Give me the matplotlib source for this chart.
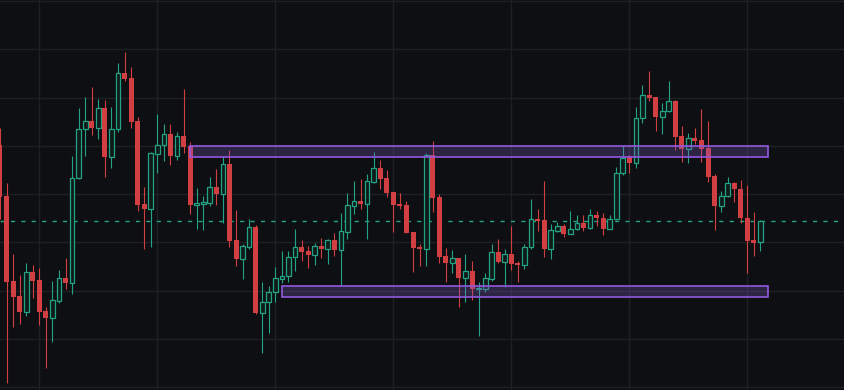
import matplotlib
matplotlib.use("Agg")
import matplotlib.pyplot as plt
import numpy as np
from matplotlib.patches import Rectangle

# OHLC (arbitrary price units, higher = up)
opens = [245, 194, 109, 94, 78.3, 117.7, 110, 79, 72.3, 89.3, 112, 107.3, 211.7, 260.7, 268.7, 262.3,
         281.7, 233.3, 260.7, 316.7, 311.7, 269, 186, 181.3, 236.3, 244.7, 255.7, 234.3, 253.7, 244,
         185.3, 186.3, 187.3, 203, 196.3, 226, 150, 130.7, 143.3, 162.7, 77.3, 87.7, 97.7, 111.3,
         113.7, 132.7, 142.7, 139, 135.3, 144, 141.3, 149.7, 140.3, 158.3, 184.3, 188.7, 186.3, 208.3,
         222, 212, 198, 186.3, 185, 157.7, 143, 141.3, 234.7, 193, 133.7, 127.3, 131.7, 112.3, 119,
         100.7, 100.7, 111.3, 138, 128, 136, 127.3, 125.3, 142.7, 170.7, 170, 141.3, 159.3, 164,
         156.3, 160.7, 167, 162.3, 174.7, 172.3, 161.3, 171.3, 216.7, 232.7, 227.3, 271.7, 294.7,
         293, 273.3, 278.7, 289, 254, 240.7, 251.7, 250, 242, 214, 184.3, 193.7, 206.7, 201, 172,
         150, 147.7]
highs = [262, 206.7, 136, 115, 126.7, 125.3, 122, 83.3, 109, 120, 131.7, 234, 281.7, 293, 302.7, 291.3,
         290, 283.3, 327, 338, 323, 272.7, 203, 238.3, 276, 266, 266, 258.3, 301, 247.7,
         202, 194, 213.3, 220.7, 234, 240, 180, 146, 171, 165, 108, 104, 123.3, 139.3,
         139.3, 160.7, 150, 144.3, 147, 151.7, 151, 157, 177, 196.7, 209, 210.7, 215.7, 237.7,
         230, 220, 198, 197, 188.7, 157.7, 146, 236.7, 249, 195.7, 141.7, 139.7, 131.7, 136, 128.7,
         107.7, 116.7, 146, 151, 141, 164, 129, 146, 190.7, 180.7, 209, 166, 168.3, 166.3,
         178.7, 174.7, 174.7, 181.3, 178.7, 176.7, 174.7, 223, 244.3, 235, 283, 305.3,
         319, 293, 287, 309, 290.3, 264, 257.3, 261.7, 280.7, 269, 215.7, 199.3, 213.3, 208.3, 210,
         204.7, 178.3, 170]
lows = [171, 7, 63.3, 66, 74, 91.7, 65, 22.3, 48.3, 87.3, 101.3, 95.7, 211, 234, 255.3, 251.3,
        213.3, 222.3, 257.7, 309.3, 261.7, 179.3, 141, 143.3, 217.3, 229.3, 225, 230, 237.3, 176,
        161, 160, 184, 185.3, 166.7, 143.3, 124, 110.7, 141.3, 76, 37.3, 57.3, 88.3, 106.7,
        108, 119, 128.7, 122, 124.7, 132.3, 125.7, 134, 104.3, 151, 175.7, 180.7, 151, 206.7,
        201.3, 192.7, 158, 181.3, 156.7, 118.3, 124, 124, 178.3, 126.7, 107.7, 116.7, 82.7, 88.3, 90.3,
        54.3, 97.7, 109.3, 126.7, 103.3, 120, 107.7, 121, 140.7, 159.3, 133.3, 130.7, 158.3, 153,
        155.7, 159.7, 159, 160.7, 164, 155, 160.7, 170, 215.3, 217.3, 222.3, 266.7,
        289.3, 259.3, 255.7, 278, 240, 228.3, 227.3, 246, 228.3, 208.3, 160, 178.3, 193.3, 187.7, 167.3,
        117.3, 134.3, 139.3]
closes = [193.3, 108.3, 93.3, 78.3, 117.7, 109.3, 78.3, 72.3, 89.7, 111.7, 107.3, 211.7, 260.7, 268.7, 262.3, 281.7,
          233.3, 260.7, 316.7, 311.3, 268.3, 185, 181.3, 236.7, 244.7, 255.7, 234.3, 253.7, 243.3, 185.3,
          187, 187.7, 203, 196.3, 225.7, 149, 130.7, 143.7, 162.7, 77.3, 87.7, 97.7, 112, 113.7,
          132.7, 142.7, 138.3, 135.3, 143.7, 141, 149.7, 140.3, 158.7, 185, 188.7, 186.3, 208.7, 222,
          211.3, 197.3, 185.3, 184.3, 157.3, 142.3, 141.3, 234.7, 192.3, 133.3, 127.3, 131.7, 112.3, 119, 100.7,
          102, 111.7, 138, 128, 136, 126.3, 125.3, 142.7, 170.7, 169.3, 141.3, 159.7, 164, 156.3,
          160.7, 166.7, 162.3, 174.7, 172.3, 161.3, 171.3, 216.7, 231.7, 227.3, 271.7, 294.7,
          292, 273.3, 278.7, 288.7, 253, 240.7, 251.7, 249.3, 241.3, 213.3, 184.3, 194, 206.7, 200.7, 171.7,
          149.3, 147.3, 168.7]

# supply / demand zones: start index, end index, top, bottom
zone_start = [29, 43]
zone_end = [117.2, 117.2]
zone_top = [244.5, 104]
zone_bottom = [232.7, 92.7]

BG = "#0e0f12"
GRID = "#1e2025"
UP = "#22a386"
DOWN = "#d23f43"
UP_FILL = "#0f1b19"

o = np.array(opens)
h = np.array(highs)
l = np.array(lows)
c = np.array(closes)
idx = np.arange(len(o))
up = c >= o

fig = plt.figure(figsize=(8.45, 3.9), dpi=100, facecolor=BG)
ax = fig.add_axes([0, 0, 1, 1])
ax.set_facecolor(BG)

# grid
for y in np.arange(2.7, 390, 48.3):
    ax.axhline(y, color=GRID, lw=1.0, zorder=0)
for x in np.arange(6, 130, 18):
    ax.axvline(x, color=GRID, lw=1.0, zorder=0)

# wicks
ax.vlines(idx[up], l[up], h[up], color=UP, lw=0.8, zorder=2)
ax.vlines(idx[~up], l[~up], h[~up], color=DOWN, lw=0.8, zorder=2)

# bodies
bottom = np.minimum(o, c)
height = np.maximum(np.abs(c - o), 1.2)
ax.bar(idx[up], height[up], bottom=bottom[up], width=0.72,
       facecolor=UP_FILL, edgecolor=UP, linewidth=0.9, zorder=3)
ax.bar(idx[~up], height[~up], bottom=bottom[~up], width=0.76,
       facecolor=DOWN, edgecolor=DOWN, linewidth=0, zorder=3)

# zones
for xs, xe, top, bot in zip(zone_start, zone_end, zone_top, zone_bottom):
    ax.add_patch(Rectangle((xs, bot), xe - xs, top - bot, facecolor="#7e57c2",
                           alpha=0.28, edgecolor="none", zorder=4))
    ax.add_patch(Rectangle((xs, bot), xe - xs, top - bot, facecolor="none",
                           edgecolor="#9358e0", linewidth=1.2, zorder=5))

# last price line
ax.axhline(c[-1], color=UP, lw=1.0, ls=(0, (3, 4.5)), zorder=1)

ax.set_xlim(0, 845 / 6.556)
ax.set_ylim(0, 390)
ax.axis("off")

fig.savefig("out.png", dpi=100, facecolor=BG)
plt.close(fig)
